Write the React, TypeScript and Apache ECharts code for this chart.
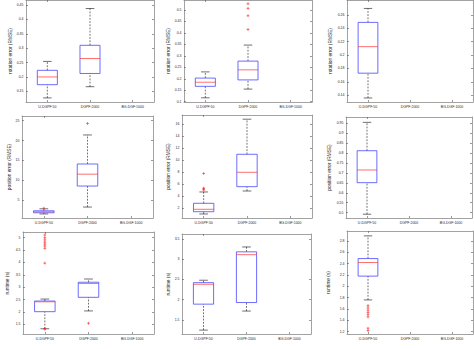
import React, { useEffect, useRef } from "react";
import * as echarts from "echarts";

const categories = ["U-DGPF:50", "DGPF:2000", "BG-DGF:1000"];

// each box: [min, q1, median, q3, max]; outliers: [categoryIndex, value]
const rotErrA = [[0.127, 0.173, 0.2, 0.223, 0.254], [0.166, 0.212, 0.264, 0.31, 0.438]];
const rotErrAOut: number[][] = [];
const rotErrB = [[0.117, 0.167, 0.185, 0.203, 0.23], [0.155, 0.195, 0.239, 0.277, 0.347]];
const rotErrBOut = [[1, 0.527], [1, 0.507], [1, 0.475], [1, 0.415]];
const rotErrC = [[0.136, 0.173, 0.2126, 0.2488, 0.2696]];
const rotErrCOut: number[][] = [];

const posErrA = [[1.45, 1.75, 2.0, 2.25, 2.75], [3.2, 8.5, 11.5, 14.07, 21.4]];
const posErrAOut = [[0, 2.9], [1, 24.3]];
const posErrB = [[1.0, 1.38, 1.78, 2.78, 4.67], [4.83, 5.55, 7.95, 10.95, 16.8]];
const posErrBOut = [[0, 7.75], [0, 5.3], [0, 5.15], [0, 5.0]];
const posErrC = [[0.492, 0.651, 0.715, 0.812, 0.955]];
const posErrCOut: number[][] = [];

const runtimeA = [[1.32, 2.01, 2.41, 2.44, 2.52], [2.04, 2.59, 3.15, 3.2, 3.33]];
const runtimeAOut = [[0, 5.11], [0, 5.0], [0, 4.91], [0, 4.82], [0, 4.74], [0, 4.66], [0, 4.57], [0, 3.97], [0, 1.33], [0, 1.3], [1, 1.54]];
const runtimeB = [[1.25, 1.89, 2.38, 2.42, 2.48], [1.72, 1.93, 3.11, 3.18, 3.3]];
const runtimeBOut: number[][] = [];
const runtimeC = [[1.76, 2.18, 2.42, 2.49, 2.89]];
const runtimeCOut = [[0, 1.66], [0, 1.62], [0, 1.58], [0, 1.54], [0, 1.5], [0, 1.46], [0, 1.26], [0, 1.22]];

const rotTicksA = [0.15, 0.2, 0.25, 0.3, 0.35, 0.4, 0.45];
const rotTicksB = [0.1, 0.15, 0.2, 0.25, 0.3, 0.35, 0.4, 0.45, 0.5];
const rotTicksC = [0.14, 0.16, 0.18, 0.2, 0.22, 0.24, 0.26];
const posTicksA = [5, 10, 15, 20, 25];
const posTicksB = [2, 4, 6, 8, 10, 12, 14, 16];
const posTicksC = [0.5, 0.55, 0.6, 0.65, 0.7, 0.75, 0.8, 0.85, 0.9, 0.95];
const runTicksA = [1.5, 2, 2.5, 3, 3.5, 4, 4.5, 5];
const runTicksB = [1.5, 2, 2.5, 3, 3.5];
const runTicksC = [1.2, 1.4, 1.6, 1.8, 2, 2.2, 2.4, 2.6, 2.8];

const rotName = "rotation error (RMSE)";
const posName = "position error (RMSE)";
const runName = "runtime (s)";

const panels = [
  { box: rotErrA, out: rotErrAOut, ticks: rotTicksA, name: rotName, min: 0.1128, max: 0.4676, l: 26, r: 154, t: -3, b: 102, gap: 7 },
  { box: rotErrB, out: rotErrBOut, ticks: rotTicksB, name: rotName, min: 0.0987, max: 0.5436, l: 184, r: 312, t: -3, b: 102, gap: 12 },
  { box: rotErrC, out: rotErrCOut, ticks: rotTicksC, name: rotName, min: 0.13, max: 0.2822, l: 347, r: 473, t: -3, b: 102, gap: 14.5 },
  { box: posErrA, out: posErrAOut, ticks: posTicksA, name: posName, min: 0.43, max: 26.19, l: 22, r: 153, t: 116, b: 218, gap: 10 },
  { box: posErrB, out: posErrBOut, ticks: posTicksB, name: posName, min: 0.33, max: 17.5, l: 182, r: 312, t: 115, b: 218, gap: 11 },
  { box: posErrC, out: posErrCOut, ticks: posTicksC, name: posName, min: 0.473, max: 0.982, l: 346, r: 472, t: 117, b: 218, gap: 14 },
  { box: runtimeA, out: runtimeAOut, ticks: runTicksA, name: runName, min: 1.108, max: 5.23, l: 23, r: 154, t: 232, b: 334, gap: 13 },
  { box: runtimeB, out: runtimeBOut, ticks: runTicksB, name: runName, min: 1.154, max: 3.62, l: 182, r: 311, t: 234, b: 334, gap: 11.5 },
  { box: runtimeC, out: runtimeCOut, ticks: runTicksC, name: runName, min: 1.159, max: 2.976, l: 347, r: 473, t: 231, b: 334, gap: 16 },
];

const FONT = "Liberation Sans, Arial, sans-serif";
const FRAME = "#8a8a8a";
const TXT = "#2a2a2a";

function buildOption() {
  const grid: any[] = [];
  const xAxis: any[] = [];
  const yAxis: any[] = [];
  const series: any[] = [];
  panels.forEach((p, i) => {
    grid.push({ left: p.l, top: p.t, width: p.r - p.l, height: p.b - p.t, show: false, containLabel: false });
    const xBase = {
      type: "category",
      data: categories,
      gridIndex: i,
      boundaryGap: true,
      axisLine: { show: true, lineStyle: { color: FRAME, width: 0.8 } },
      axisTick: { show: true, inside: true, alignWithLabel: true, length: 2, lineStyle: { color: "#555", width: 0.6 } },
      splitLine: { show: false },
    };
    xAxis.push({
      ...xBase,
      position: "bottom",
      axisLabel: { show: true, fontSize: 3.5, fontFamily: FONT, color: TXT, margin: 3, interval: 0 },
    });
    xAxis.push({ ...xBase, position: "top", axisLabel: { show: false } });
    const yBase = {
      type: "value",
      gridIndex: i,
      min: p.min,
      max: p.max,
      axisLine: { show: true, lineStyle: { color: FRAME, width: 0.8 } },
      axisTick: { show: true, inside: true, length: 2, customValues: p.ticks, lineStyle: { color: "#555", width: 0.6 } },
      splitLine: { show: false },
    };
    yAxis.push({
      ...yBase,
      position: "left",
      name: p.name,
      nameLocation: "middle",
      nameGap: p.gap,
      nameTextStyle: { fontSize: 4.8, fontFamily: FONT, color: TXT },
      axisLabel: { show: true, fontSize: 3.5, fontFamily: FONT, color: TXT, margin: 2.5, customValues: p.ticks },
    });
    yAxis.push({ ...yBase, position: "right", axisLabel: { show: false } });

    const boxData = p.box.map((b, ci) => [ci, ...b]);
    series.push({
      type: "custom",
      xAxisIndex: 2 * i,
      yAxisIndex: 2 * i,
      data: boxData,
      encode: { x: 0, y: [1, 2, 3, 4, 5] },
      clip: false,
      renderItem: (params: any, api: any) => {
        const c = api.value(0);
        const pMin = api.coord([c, api.value(1)]);
        const pQ1 = api.coord([c, api.value(2)]);
        const pMed = api.coord([c, api.value(3)]);
        const pQ3 = api.coord([c, api.value(4)]);
        const pMax = api.coord([c, api.value(5)]);
        const band = api.size([1, 0])[0];
        const cx = pMed[0];
        const hw = band * 0.235;
        const cw = band * 0.1;
        const dash = { stroke: "#111", lineWidth: 0.6, lineDash: [1.8, 1.4] };
        const solid = { stroke: "#111", lineWidth: 0.6 };
        return {
          type: "group",
          children: [
            { type: "line", shape: { x1: cx, y1: pMin[1], x2: cx, y2: pQ1[1] }, style: dash },
            { type: "line", shape: { x1: cx, y1: pQ3[1], x2: cx, y2: pMax[1] }, style: dash },
            { type: "line", shape: { x1: cx - cw, y1: pMin[1], x2: cx + cw, y2: pMin[1] }, style: solid },
            { type: "line", shape: { x1: cx - cw, y1: pMax[1], x2: cx + cw, y2: pMax[1] }, style: solid },
            {
              type: "rect",
              shape: { x: cx - hw, y: pQ3[1], width: 2 * hw, height: pQ1[1] - pQ3[1] },
              style: { fill: "none", stroke: "#4848ff", lineWidth: 0.8 },
            },
            { type: "line", shape: { x1: cx - hw, y1: pMed[1], x2: cx + hw, y2: pMed[1] }, style: { stroke: "#ff3030", lineWidth: 0.7 } },
          ],
        };
      },
    });
    if (p.out.length) {
      series.push({
        type: "custom",
        xAxisIndex: 2 * i,
        yAxisIndex: 2 * i,
        data: p.out,
        encode: { x: 0, y: 1 },
        clip: false,
        renderItem: (params: any, api: any) => {
          const pt = api.coord([api.value(0), api.value(1)]);
          const s = 1.4;
          const st = { stroke: "#ff2020", lineWidth: 0.6 };
          return {
            type: "group",
            children: [
              { type: "line", shape: { x1: pt[0] - s, y1: pt[1], x2: pt[0] + s, y2: pt[1] }, style: st },
              { type: "line", shape: { x1: pt[0], y1: pt[1] - s, x2: pt[0], y2: pt[1] + s }, style: st },
            ],
          };
        },
      });
    }
  });
  return {
    animation: false,
    backgroundColor: "#ffffff",
    grid,
    xAxis,
    yAxis,
    series,
  };
}

export default function App() {
  const ref = useRef<HTMLDivElement>(null);
  useEffect(() => {
    document.body.style.margin = "0";
    if (!ref.current) return;
    const chart = echarts.init(ref.current, undefined, { renderer: "svg" });
    chart.setOption(buildOption() as any);
    return () => chart.dispose();
  }, []);
  return (
    <div
      ref={ref}
      style={{ position: "absolute", left: 0, top: 0, width: 474, height: 349, background: "#fff", overflow: "hidden" }}
    />
  );
}
